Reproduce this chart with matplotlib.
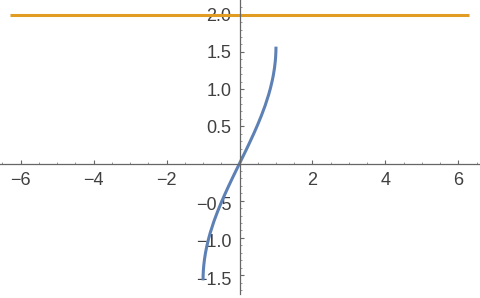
import matplotlib
matplotlib.use("Agg")
import matplotlib.pyplot as plt
from matplotlib.ticker import MultipleLocator
from matplotlib.transforms import ScaledTranslation

# values
curve_x = [-1.0, -0.998, -0.99, -0.98, -0.96, -0.93, -0.9, -0.85, -0.8, -0.7, -0.6,
           -0.5, -0.4, -0.3, -0.2, -0.1, 0.0, 0.1, 0.2, 0.3, 0.4, 0.5, 0.6, 0.7,
           0.8, 0.85, 0.9, 0.93, 0.96, 0.98, 0.99, 0.998, 1.0]
curve_y = [-1.571, -1.508, -1.429, -1.371, -1.287, -1.194, -1.120, -1.016, -0.927,
           -0.775, -0.644, -0.524, -0.412, -0.305, -0.201, -0.100, 0.0, 0.100, 0.201,
           0.305, 0.412, 0.524, 0.644, 0.775, 0.927, 1.016, 1.120, 1.194, 1.287,
           1.371, 1.429, 1.508, 1.571]
flat_x = [-6.283, 6.283]
flat_y = [2.0, 2.0]

x_ticks = [-6, -4, -2, 2, 4, 6]
x_labels = ["\u22126", "\u22124", "\u22122", "2", "4", "6"]
y_ticks = [-1.5, -1.0, -0.5, 0.5, 1.0, 1.5, 2.0]
y_labels = ["\u22121.5", "\u22121.0", "\u22120.5", "0.5", "1.0", "1.5", "2.0"]

plt.rcParams['font.family'] = ['Liberation Sans', 'DejaVu Sans']

fig = plt.figure(figsize=(4.8, 2.98), dpi=100)
ax = fig.add_axes([0, 4 / 298, 1, 294 / 298])

ax.plot(curve_x, curve_y, color="#5E81B5", lw=2.2, solid_capstyle="butt")
ax.plot(flat_x, flat_y, color="#E19C24", lw=2.2, solid_capstyle="butt")

ax.set_xlim(-6.567, 6.594)
ax.set_ylim(-1.754, 2.198)

# axes through the origin
for s in ["top", "right"]:
    ax.spines[s].set_visible(False)
ax.spines["left"].set_position(("data", 0))
ax.spines["bottom"].set_position(("data", 0))
for s in ["left", "bottom"]:
    ax.spines[s].set_color("#666666")
    ax.spines[s].set_linewidth(0.9)

ax.xaxis.set_minor_locator(MultipleLocator(0.5))
ax.yaxis.set_minor_locator(MultipleLocator(0.1))
ax.set_xticks(x_ticks)
ax.set_xticklabels(x_labels)
ax.set_yticks(y_ticks)
ax.set_yticklabels(y_labels)

ax.tick_params(axis="both", which="major", direction="in", length=3, width=0.8,
               color="#666666", labelsize=13, labelcolor="#404040")
ax.tick_params(axis="both", which="minor", direction="in", length=1.6, width=0.6,
               color="#888888")
ax.tick_params(axis="x", which="major", pad=6)
ax.tick_params(axis="y", which="major", pad=6)

# negative y labels sit a little lower in the original
for lab, v in zip(ax.get_yticklabels(), y_ticks):
    if v < 0:
        lab.set_transform(lab.get_transform() + ScaledTranslation(0, -3 / 100, fig.dpi_scale_trans))

ax.patch.set_alpha(0)

fig.savefig("out.png", dpi=100)
